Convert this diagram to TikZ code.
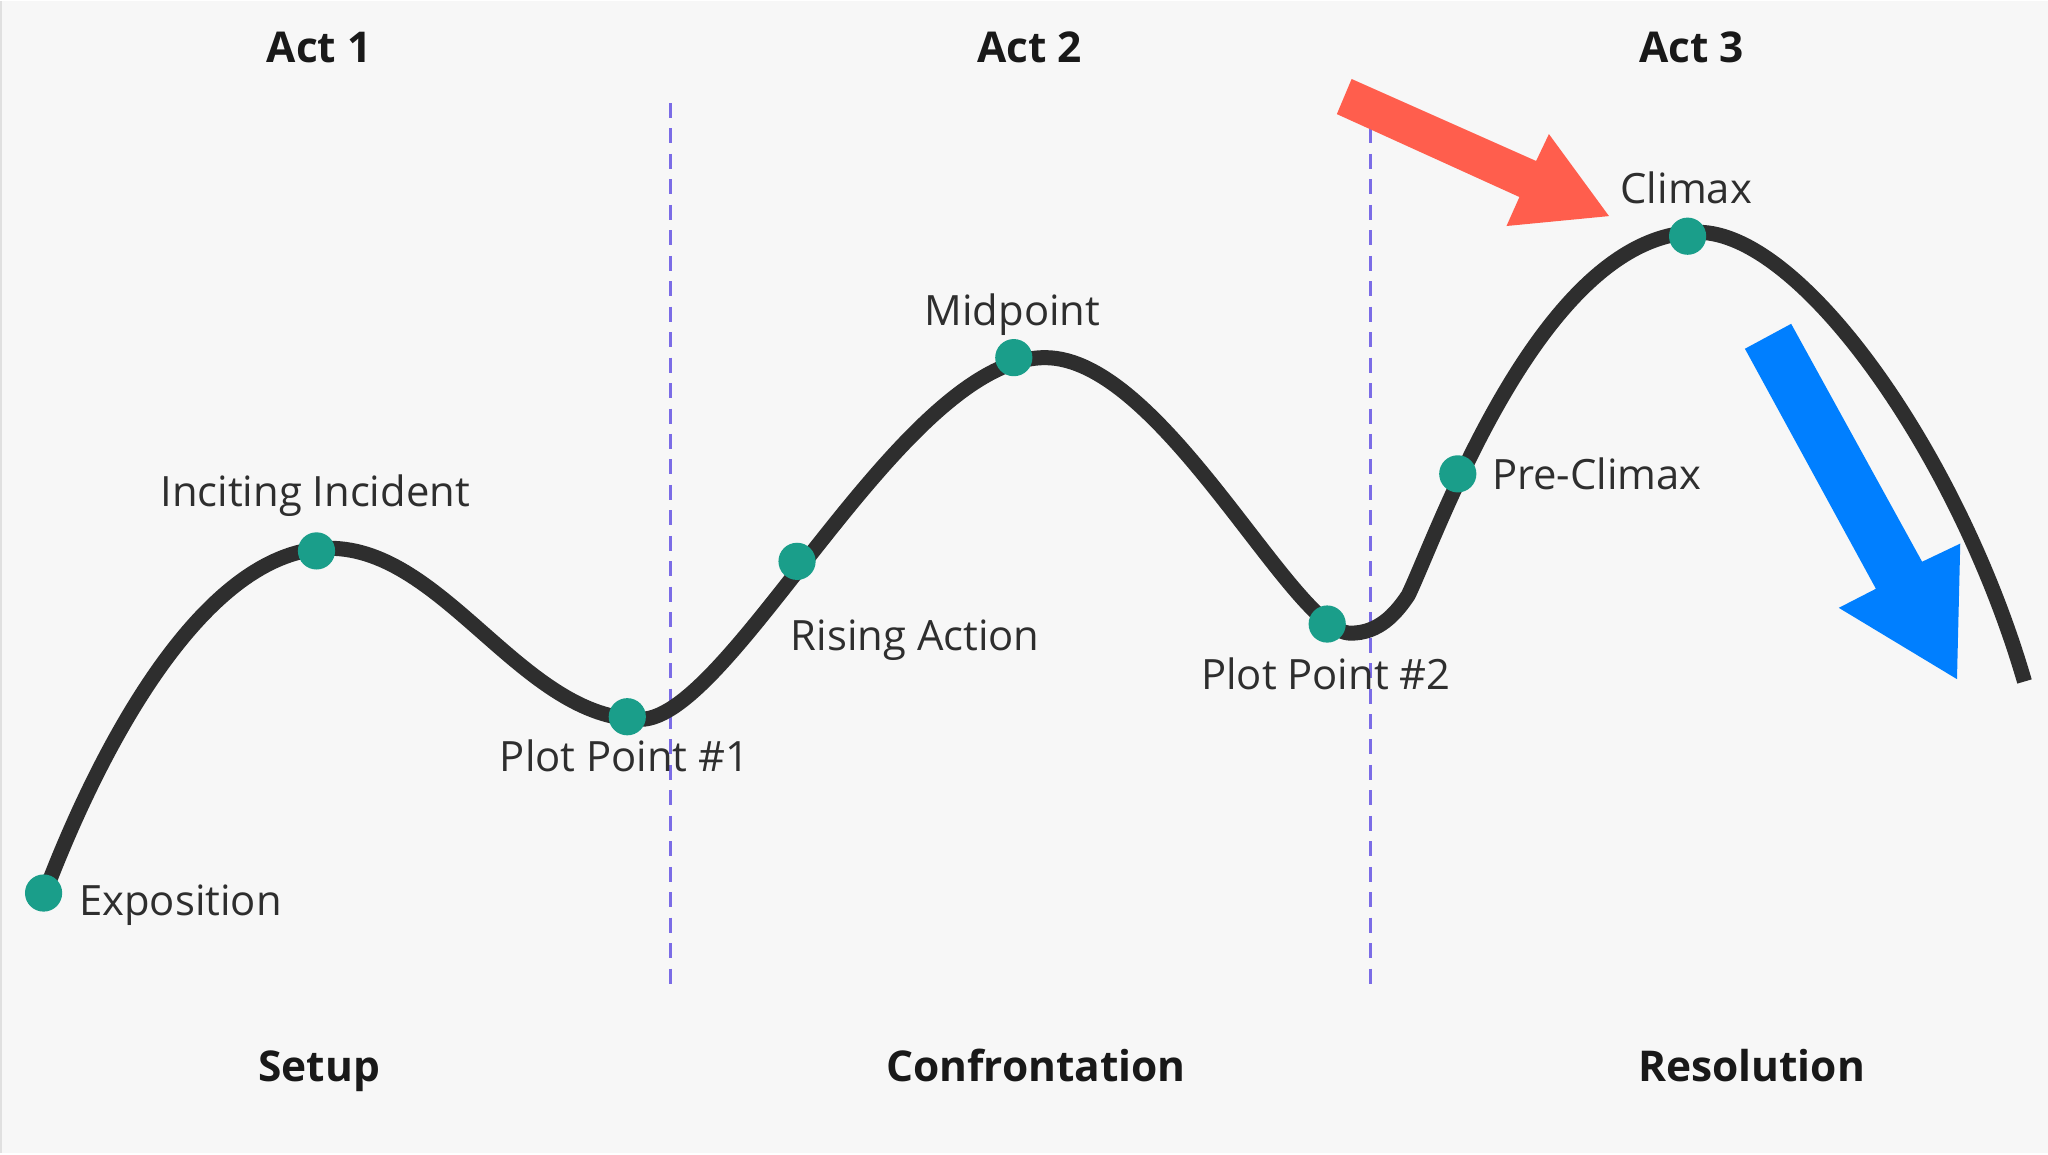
\documentclass[tikz,border=0pt]{standalone}
\usepackage{fontspec}
\setmainfont{Open Sans}
\usetikzlibrary{positioning}

\definecolor{bgcol}{HTML}{F7F7F7}
\definecolor{curvecol}{HTML}{2E2E2E}
\definecolor{dotcol}{HTML}{1A9E8A}
\definecolor{divcol}{HTML}{7B6CE6}
\definecolor{redcol}{HTML}{FF5E4D}
\definecolor{bluecol}{HTML}{007FFF}

\tikzset{
    label/.style={font=\fontsize{18.2}{22}\selectfont, text=curvecol, inner sep=0pt},
    actlabel/.style={font=\fontsize{18.5}{22}\selectfont\bfseries, text=black!90, inner sep=0pt, anchor=base},
    plotdot/.style={circle, fill=dotcol, minimum size=0.57cm, inner sep=0pt},
    divider/.style={draw=divcol, line width=1.2pt, dash pattern=on 0.23cm off 0.16cm}
}

\begin{document}
\begin{tikzpicture}[x=0.02cm, y=-0.02cm]
        % background
        \fill[bgcol] (0,0) rectangle (1568,882);
        \draw[black!12, line width=1pt] (0.5,0) -- (0.5,882);
        \useasboundingbox (0,0) rectangle (1568,882);

        % the act titles and the phases
        \node[actlabel] (act1) at (244,47) {Act 1};
        \node[actlabel] (act2) at (788,47) {Act 2};
        \node[actlabel] (act3) at (1295,47) {Act 3};
        \node[actlabel] (setup) at (244,827) {Setup};
        \node[actlabel] (confront) at (793,827) {Confrontation};
        \node[actlabel] (resol) at (1341,827) {Resolution};

        % the dividers between the acts
        \coordinate (d1top) at (513,78);
        \coordinate (d1bot) at (513,757);
        \coordinate (d2top) at (1049,78);
        \coordinate (d2bot) at (1049,760);
        \draw[divider] (d1top) -- (d1bot);
        \draw[divider] (d2top) -- (d2bot);

        % the story curve
        \draw[curvecol, line width=0.23cm, line cap=butt]
            (32,688) .. controls (80,560) and (160,419) .. (252,419)
            .. controls (340,419) and (400,550) .. (490,550)
            .. controls (560,550) and (690,273) .. (800,273)
            .. controls (890,273) and (990,484) .. (1034,484)
            .. controls (1055,484) and (1068,470) .. (1078,455)
            .. controls (1100,410) and (1180,177) .. (1300,177)
            .. controls (1380,177) and (1500,349) .. (1550,521);

        % the points on the curve
        \node[plotdot] (expo) at (33,683) {};
        \node[plotdot] (incite) at (242,421) {};
        \node[plotdot] (pp1) at (480,548) {};
        \node[plotdot] (rising) at (610,429) {};
        \node[plotdot] (mid) at (776,273) {};
        \node[plotdot] (pp2) at (1016,477) {};
        \node[plotdot] (precl) at (1116,362) {};
        \node[plotdot] (climax) at (1292,180) {};

        % the texts of the points
        \node[label, anchor=west] at (60,692) {Exposition};
        \node[label] at (241,379) {Inciting Incident};
        \node[label] at (478,578) {Plot Point \#1};
        \node[label, anchor=west] at (605,489) {Rising Action};
        \node[label] at (775,240) {Midpoint};
        \node[label] at (1015,515) {Plot Point \#2};
        \node[label, anchor=west] at (1142,362) {Pre-Climax};
        \node[label] at (1291,143) {Climax};

        % the big arrows
        \fill[redcol] (1034.7,59.6) -- (1176,122.4) -- (1185.8,101.8) -- (1231.8,164.6)
            -- (1153.3,172.2) -- (1163.2,150) -- (1023.4,86.5) -- cycle;
        \fill[bluecol] (1371.3,247.1) -- (1471.6,429.3) -- (1500.8,415.4) -- (1498.3,519.2)
            -- (1407.8,464.6) -- (1436.2,450) -- (1335.9,266.2) -- cycle;

    \end{tikzpicture}
\end{document}
